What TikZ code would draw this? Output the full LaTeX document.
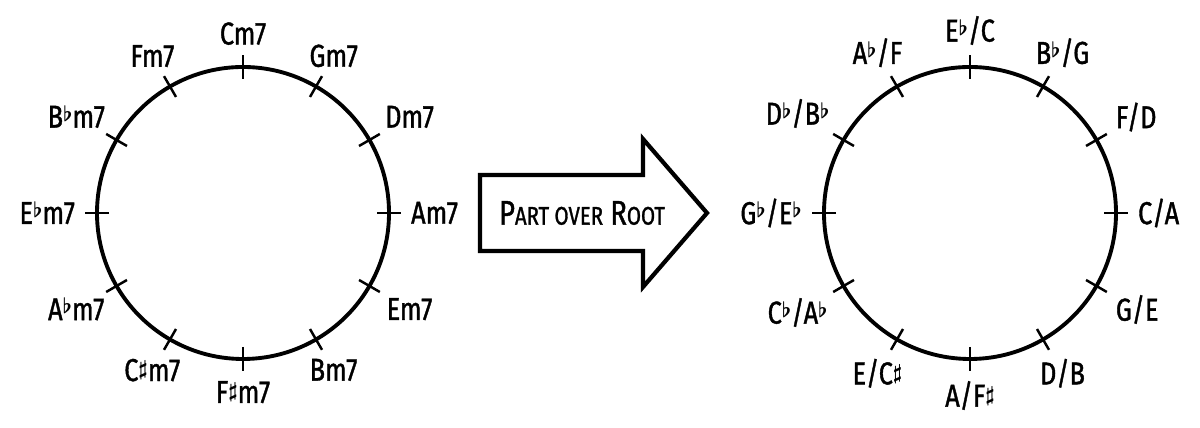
\documentclass[tikz,border=0pt]{standalone}
\usepackage{fontspec}
\setmainfont{Fira Sans}
\newfontfamily\chordfont[FakeStretch=0.8, FakeBold=1.2]{Fira Sans}
\usetikzlibrary{calc}
\newcommand{\flt}{\raisebox{3.5pt}{\fontsize{13}{12}\selectfont\boldmath$\flat$}}
\newcommand{\shp}{\raisebox{3pt}{\fontsize{11.5}{11}\selectfont\boldmath$\sharp$}}
\newcommand{\smcap}[1]{{\fontsize{14.5}{14}\selectfont #1}}
\tikzset{
  ring/.style={draw=black, line width=2.2pt},
  tickmark/.style={draw=black, line width=1.4pt},
  chord/.style={font=\chordfont\fontsize{18}{20}\selectfont, inner sep=1pt},
  bigarrow/.style={draw=black, line width=2.4pt, line join=miter},
  caption/.style={font=\chordfont\fontsize{19.5}{20}\selectfont, inner sep=0pt},
}

\begin{document}
\begin{tikzpicture}[x=0.02cm, y=0.02cm]
\useasboundingbox (0,0) rectangle (1200,428);
\coordinate (L) at (243,215);
\coordinate (R) at (970,215);
\draw[ring] (L) circle[radius=146];
\draw[ring] (R) circle[radius=146];
\foreach \a in {0,30,...,330} {
  \draw[tickmark] ($(L)+(\a:134)$) -- ($(L)+(\a:158)$);
  \draw[tickmark] ($(R)+(\a:134)$) -- ($(R)+(\a:158)$);
}
% left circle: minor sevenths
\node[chord, anchor=270] (lC) at ($(L)+(90:166)$) {Cm7};
\node[chord, anchor=240] (lG) at ($(L)+(60:166)$) {Gm7};
\node[chord, anchor=210] (lD) at ($(L)+(30:166)$) {Dm7};
\node[chord, anchor=180] (lA) at ($(L)+(0:166)$) {Am7};
\node[chord, anchor=150] (lE) at ($(L)+(-30:166)$) {Em7};
\node[chord, anchor=120] (lB) at ($(L)+(-60:166)$) {Bm7};
\node[chord, anchor=90] (lFs) at ($(L)+(-90:166)$) {F\shp m7};
\node[chord, anchor=60] (lCs) at ($(L)+(-120:166)$) {C\shp m7};
\node[chord, anchor=30] (lAb) at ($(L)+(-150:166)$) {A\flt m7};
\node[chord, anchor=0] (lEb) at ($(L)+(180:166)$) {E\flt m7};
\node[chord, anchor=-30] (lBb) at ($(L)+(150:166)$) {B\flt m7};
\node[chord, anchor=-60] (lF) at ($(L)+(120:166)$) {Fm7};
% right circle: part over root
\node[chord, anchor=270] (rC) at ($(R)+(90:166)$) {E\flt/C};
\node[chord, anchor=240] (rG) at ($(R)+(60:166)$) {B\flt/G};
\node[chord, anchor=210] (rD) at ($(R)+(30:166)$) {F/D};
\node[chord, anchor=180] (rA) at ($(R)+(0:166)$) {C/A};
\node[chord, anchor=150] (rE) at ($(R)+(-30:166)$) {G/E};
\node[chord, anchor=120] (rB) at ($(R)+(-60:166)$) {D/B};
\node[chord, anchor=90] (rFs) at ($(R)+(-90:166)$) {A/F\shp};
\node[chord, anchor=60] (rCs) at ($(R)+(-120:166)$) {E/C\shp};
\node[chord, anchor=30] (rAb) at ($(R)+(-150:166)$) {C\flt/A\flt};
\node[chord, anchor=0] (rEb) at ($(R)+(180:166)$) {G\flt/E\flt};
\node[chord, anchor=-30] (rBb) at ($(R)+(150:166)$) {D\flt/B\flt};
\node[chord, anchor=-60] (rF) at ($(R)+(120:166)$) {A\flt/F};
% the arrow
\draw[bigarrow] (480,177) -- (480,253) -- (643,253) -- (643,289) -- (707,215)
  -- (643,141) -- (643,177) -- cycle;
\node[caption] (por) at (582,215) {P\smcap{ART OVER} R\smcap{OOT}};
\end{tikzpicture}
\end{document}
